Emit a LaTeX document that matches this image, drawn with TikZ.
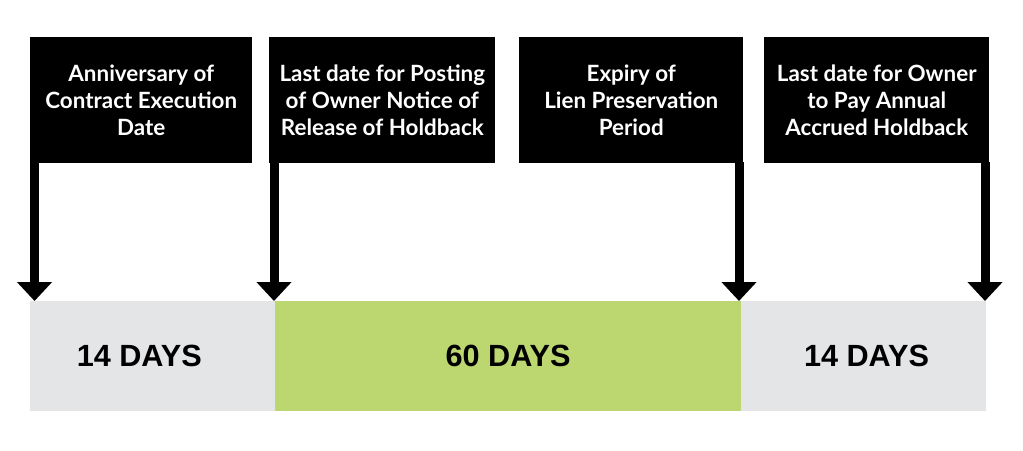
\documentclass[tikz,border=0pt]{standalone}
\usepackage{xcolor}
\usepackage{fontspec}
\setmainfont{Liberation Sans}
\newfontfamily\headfont{Lato}
\usepackage{tikz}
\usetikzlibrary{positioning,arrows.meta,calc}
\definecolor{daygrey}{RGB}{228,229,231}
\definecolor{daygreen}{RGB}{188,215,112}
\tikzset{
  flag/.style={fill=black,text=white,inner sep=0pt,anchor=north west,
    minimum width=#1,minimum height=94.5pt,align=center,
    font=\headfont\bfseries\fontsize{16.8}{20.25}\selectfont},
  span/.style={fill=#1,inner sep=0pt,minimum height=82.5pt,
    font=\bfseries\fontsize{23}{27}\selectfont},
  pin/.style={line width=6.75pt,-{Triangle[width=25.5pt,length=14.25pt]}}
}

\begin{document}
\begin{tikzpicture}[x=0.75pt,y=-0.75pt]
           \useasboundingbox (0,0) rectangle (1023,450);
           \node[flag=166.5pt] (anniv) at (30,37) {Anniversary of\\Contract Execution\\Date};
           \node[flag=169.5pt] (posting) at (269,37) {Last date for Posting\\of Owner Notice of\\Release of Holdback};
           \node[flag=168pt] (expiry) at (519,37) {Expiry of\\Lien Preservation\\Period};
           \node[flag=168.75pt] (payment) at (764,37) {Last date for Owner\\to Pay Annual\\Accrued Holdback};
           \node[span=daygrey,anchor=north west,minimum width=183.4pt] (lead) at (30,301) {14 DAYS\kern19.9pt};
           \node[span=daygreen,right=-0.4pt of lead,minimum width=349.9pt] (mid) {60 DAYS};
           \node[span=daygrey,right=-0.4pt of mid,minimum width=183.75pt] (tail) {\hspace{4pt}14 DAYS};
           \coordinate (annivtop) at ([xshift=3.4pt,yshift=1pt]anniv.south west);
           \coordinate (posttop) at ([xshift=3.75pt,yshift=1pt]posting.south west);
           \coordinate (exptop) at ([xshift=-3.4pt,yshift=1pt]expiry.south east);
           \coordinate (paytop) at ([xshift=-3.4pt,yshift=1pt]payment.south east);
           \draw[pin] (annivtop) -- (annivtop |- lead.north);
           \draw[pin] (posttop) -- (posttop |- mid.north);
           \draw[pin] (exptop) -- (exptop |- mid.north);
           \draw[pin] (paytop) -- (paytop |- tail.north);
         \end{tikzpicture}
\end{document}
